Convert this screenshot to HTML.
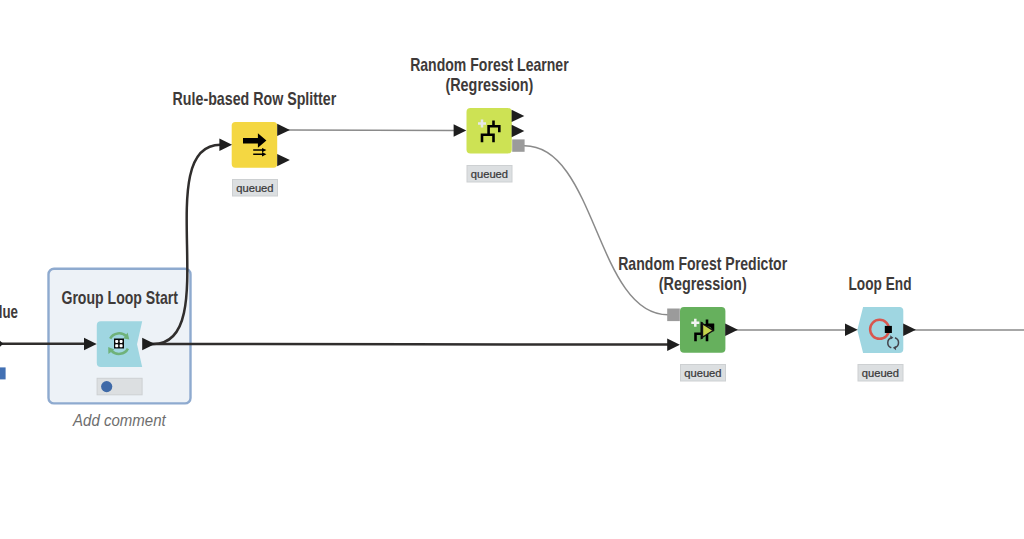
<!DOCTYPE html>
<html lang="en">
<head>
<meta charset="utf-8">
<title>KNIME workflow</title>
<style>
html,body{margin:0;padding:0;background:#fff;overflow:hidden}
body{width:1024px;height:539px;font-family:"Liberation Sans",sans-serif}
svg{display:block;font-family:"Liberation Sans",sans-serif}
</style>
</head>
<body>
<svg width="1024" height="539" viewBox="0 0 1024 539">
<rect width="1024" height="539" fill="#fff"/>
<rect x="48.5" y="268.7" width="142" height="134.7" rx="5.5" fill="#edf2f7" stroke="#8eaacf" stroke-width="2.4"/>
<path d="M0,343.8 H86" fill="none" stroke="#302e2d" stroke-width="2.5"/>
<polygon points="0,340.8 3.2,343.8 0,346.8" fill="#1e1e1e"/>
<path d="M150.50,344.00 H153.50 C411.00,344.00 411.00,344.60 668.50,344.60 h3" fill="none" stroke="#302e2d" stroke-width="2.5"/>
<path d="M150.50,344.00 H153.50 C224.50,344.00 149.50,144.80 220.50,144.80 h3" fill="none" stroke="#302e2d" stroke-width="2.5"/>
<path d="M286.00,130.00 H289.00 C372.00,130.00 372.00,130.40 455.00,130.40 h3" fill="none" stroke="#8a8a8a" stroke-width="1.5"/>
<path d="M521.50,145.80 H524.50 C596.25,145.80 596.25,314.80 668.00,314.80 h3" fill="none" stroke="#8a8a8a" stroke-width="1.5"/>
<path d="M734.00,330.00 H737.00 C808.00,330.00 775.00,330.00 846.00,330.00 h3" fill="none" stroke="#8a8a8a" stroke-width="1.5"/>
<path d="M914,330 H1024" fill="none" stroke="#8a8a8a" stroke-width="1.5"/>
<text x="17.90" y="317.80" text-anchor="end" font-size="17.7" font-weight="bold" font-style="normal" fill="#3e3a39" textLength="19.20" lengthAdjust="spacingAndGlyphs">lue</text>
<rect x="0" y="367.4" width="5.6" height="12" fill="#4270b3"/>
<path d="M142.2,321.2 H100.8 a4,4 0 0 0 -4,4 V362.9 a4,4 0 0 0 4,4 H142.2 L137.0,344.2 Z" fill="#9fd6e1"/>
<polygon points="84.00,337.80 96.70,344.00 84.00,350.20" fill="#1e1e1e"/>
<polygon points="142.20,337.80 154.90,344.00 142.20,350.20" fill="#1e1e1e"/>
<path d="M110.2,338.6 A9.8,9.0 0 0 1 126.6,336.6" fill="none" stroke="#6fb27a" stroke-width="2.5"/>
<polygon points="127.6,332.6 129.3,339.4 123.4,338.4" fill="#6fb27a"/>
<path d="M127.9,348.6 A9.8,9.0 0 0 1 111.4,350.6" fill="none" stroke="#6fb27a" stroke-width="2.5"/>
<polygon points="108.2,347 108.4,354 114.4,349.6" fill="#6fb27a"/>
<rect x="114" y="338.5" width="10" height="10" fill="#0a0a0a"/>
<rect x="115.2" y="339.9" width="3" height="3" rx="0.8" fill="#fff"/>
<rect x="115.2" y="344.2" width="3" height="3" rx="0.8" fill="#fff"/>
<rect x="119.6" y="339.9" width="3" height="3" rx="0.8" fill="#fff"/>
<rect x="119.6" y="344.2" width="3" height="3" rx="0.8" fill="#fff"/>
<rect x="97.10" y="378.30" width="45" height="16.5" fill="#dcdfe1" stroke="#cdd0d2" stroke-width="1"/>
<circle cx="106.7" cy="386.6" r="5.6" fill="#3f6aa8"/>
<text x="119.70" y="303.80" text-anchor="middle" font-size="17.7" font-weight="bold" font-style="normal" fill="#3e3a39" textLength="116.50" lengthAdjust="spacingAndGlyphs">Group Loop Start</text>
<text x="119.40" y="426.20" text-anchor="middle" font-size="16.6" font-weight="normal" font-style="italic" fill="#6e6e6e" textLength="92.60" lengthAdjust="spacingAndGlyphs">Add comment</text>
<rect x="231.7" y="121.9" width="45.5" height="45.8" rx="3.6" fill="#f4d742"/>
<polygon points="219.40,138.60 232.10,144.80 219.40,151.00" fill="#1e1e1e"/>
<polygon points="277.20,123.70 289.90,129.90 277.20,136.10" fill="#1e1e1e"/>
<polygon points="277.20,153.90 289.90,160.10 277.20,166.30" fill="#1e1e1e"/>
<path d="M243,138 H257.9 V133.3 L266.4,140.6 L257.9,147.8 V143.6 H243 Z" fill="#000"/>
<path d="M253.2,150.1 H263 M253.2,154.3 H263" stroke="#000" stroke-width="1.5" fill="none"/>
<polygon points="262,147.9 266.4,150.1 262,152.3" fill="#000"/>
<polygon points="262,152.1 266.4,154.3 262,156.5" fill="#000"/>
<rect x="232.50" y="179.50" width="45" height="16.5" fill="#dcdfe1" stroke="#cdd0d2" stroke-width="1"/><text x="254.90" y="191.50" text-anchor="middle" font-size="11.2" fill="#383838" stroke="#383838" stroke-width="0.22" font-weight="normal">queued</text>
<text x="254.40" y="105.00" text-anchor="middle" font-size="17.7" font-weight="bold" font-style="normal" fill="#3e3a39" textLength="163.60" lengthAdjust="spacingAndGlyphs">Rule-based Row Splitter</text>
<rect x="466.5" y="108" width="45.3" height="45.5" rx="4" fill="#cde254"/>
<polygon points="453.60,124.30 466.30,130.50 453.60,136.70" fill="#1e1e1e"/>
<polygon points="511.60,109.70 524.30,115.90 511.60,122.10" fill="#1e1e1e"/>
<polygon points="511.60,124.80 524.30,131.00 511.60,137.20" fill="#1e1e1e"/>
<rect x="512.20" y="139.40" width="12.40" height="12.40" fill="#9b9b9b"/>
<path d="M493.5,120.6 V126.3 M487.3,126.3 H500.6 M499.3,126.3 V132.2 M488.6,126.3 V134.8 M480.7,134.8 H494.8 M482.0,134.8 V142.2 M493.5,134.8 V142.2" fill="none" stroke="#000" stroke-width="2.6"/>
<path d="M478,123.6 H486 M482,119.6 V127.6" stroke="#e6e8ea" stroke-width="2.5" fill="none"/>
<rect x="467.00" y="165.50" width="45" height="16.5" fill="#dcdfe1" stroke="#cdd0d2" stroke-width="1"/><text x="489.40" y="177.50" text-anchor="middle" font-size="11.2" fill="#383838" stroke="#383838" stroke-width="0.22" font-weight="normal">queued</text>
<text x="489.40" y="70.60" text-anchor="middle" font-size="17.7" font-weight="bold" font-style="normal" fill="#3e3a39" textLength="158.50" lengthAdjust="spacingAndGlyphs">Random Forest Learner</text>
<text x="489.40" y="90.90" text-anchor="middle" font-size="17.7" font-weight="bold" font-style="normal" fill="#3e3a39" textLength="88.00" lengthAdjust="spacingAndGlyphs">(Regression)</text>
<rect x="680" y="307" width="45.4" height="45.8" rx="4" fill="#66b05d"/>
<rect x="667.20" y="308.50" width="12.60" height="12.60" fill="#9b9b9b"/>
<polygon points="667.20,338.50 679.90,344.70 667.20,350.90" fill="#1e1e1e"/>
<polygon points="725.20,323.60 737.90,329.80 725.20,336.00" fill="#1e1e1e"/>
<path d="M707,319.6 V325.3 M700.8,325.3 H714.1 M712.8,325.3 V331.2 M702.1,325.3 V333.8 M694.2,333.8 H708.3 M695.5,333.8 V341.2 M707,333.8 V341.2" fill="none" stroke="#000" stroke-width="2.6"/>
<path d="M691.3,322.8 H699.3 M695.3,318.8 V326.8" stroke="#f2f4f2" stroke-width="2.5" fill="none"/>
<polygon points="705.8,323.4 714.2,323.4 714.2,330.4" fill="#000"/>
<polygon points="700.6,321.6 703,322.6 703,338.4 700.6,339.4" fill="#0a0a0a"/>
<polygon points="702.5,323.7 713.1,330.5 702.5,337.3" fill="#c5d44c" stroke="#141414" stroke-width="1.4" stroke-linejoin="miter"/>
<rect x="680.50" y="364.50" width="45" height="16.5" fill="#dcdfe1" stroke="#cdd0d2" stroke-width="1"/><text x="702.90" y="376.50" text-anchor="middle" font-size="11.2" fill="#383838" stroke="#383838" stroke-width="0.22" font-weight="normal">queued</text>
<text x="702.70" y="269.70" text-anchor="middle" font-size="17.7" font-weight="bold" font-style="normal" fill="#3e3a39" textLength="169.00" lengthAdjust="spacingAndGlyphs">Random Forest Predictor</text>
<text x="702.70" y="290.30" text-anchor="middle" font-size="17.7" font-weight="bold" font-style="normal" fill="#3e3a39" textLength="88.00" lengthAdjust="spacingAndGlyphs">(Regression)</text>
<path d="M903.3,311 a3.6,3.6 0 0 0 -4,-4 H863.0999999999999 L857.3,330.1 L863.0999999999999,353 H899.3 a4,4 0 0 0 4,-4 Z" fill="#9fd6e1"/>
<polygon points="845.00,323.60 857.70,329.80 845.00,336.00" fill="#1e1e1e"/>
<polygon points="903.20,323.60 915.90,329.80 903.20,336.00" fill="#1e1e1e"/>
<circle cx="879.6" cy="329.3" r="9.5" fill="none" stroke="#d8564e" stroke-width="2.5"/>
<rect x="884.8" y="325.9" width="7.1" height="7.1" fill="#000"/>
<path d="M891.5,337.8 A5.2,5.2 0 0 0 891.3,347.7 M895.0,337.8 A5.2,5.2 0 0 1 894.8,347.7" fill="none" stroke="#44444c" stroke-width="1.5"/>
<polygon points="890.2,335.2 893.4,337.7 890.6,339.6" fill="#44444c"/>
<polygon points="896.1,350.3 892.9,347.8 895.7,345.9" fill="#44444c"/>
<rect x="858.00" y="364.50" width="45" height="16.5" fill="#dcdfe1" stroke="#cdd0d2" stroke-width="1"/><text x="880.40" y="376.50" text-anchor="middle" font-size="11.2" fill="#383838" stroke="#383838" stroke-width="0.22" font-weight="normal">queued</text>
<text x="880.00" y="289.60" text-anchor="middle" font-size="17.7" font-weight="bold" font-style="normal" fill="#3e3a39" textLength="63.00" lengthAdjust="spacingAndGlyphs">Loop End</text>
</svg>
</body>
</html>
